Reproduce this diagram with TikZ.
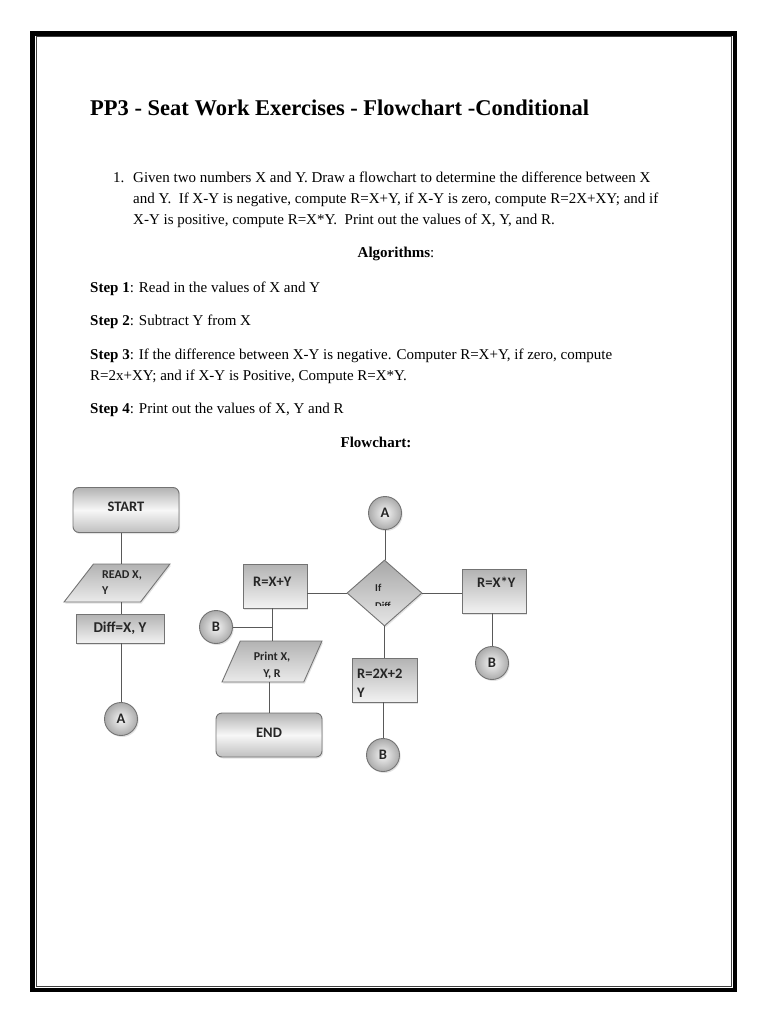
\documentclass[tikz,border=0pt]{standalone}
\usepackage{fontspec}
\setmainfont{Liberation Serif}
\newfontfamily\flowfont{Carlito}
\usetikzlibrary{shapes.geometric,shadows}
\begin{document}
\begin{tikzpicture}[x=1pt,y=-1pt,
  body/.style={font=\fontsize{15}{18}\selectfont, anchor=base west, inner sep=0pt},
  ftxt/.style={font=\flowfont\bfseries\fontsize{14.5}{16}\selectfont, text=black!85, anchor=base west, inner sep=0pt},
  fsmall/.style={ftxt, font=\flowfont\bfseries\fontsize{12}{14}\selectfont},
  fshape/.style={draw=black!55, line width=0.9pt, inner sep=0pt, text=black!85,
    font=\flowfont\bfseries\fontsize{14.5}{16}\selectfont,
    drop shadow={opacity=0.22, shadow xshift=1.2pt, shadow yshift=-1.5pt}},
  term/.style={fshape, rectangle, rounded corners=6pt, minimum width=106pt, minimum height=45pt,
    top color=black!30, bottom color=black!25, middle color=black!3},
  proc/.style={fshape, rectangle, top color=black!30, bottom color=black!5},
  io/.style={fshape, trapezium, trapezium stretches=true, inner sep=3pt, top color=black!30, bottom color=black!8},
  dec/.style={fshape, diamond, inner sep=2pt, top color=black!34, bottom color=black!10},
  conncirc/.style={fshape, circle, minimum size=33pt, inner color=black!4, outer color=black!33},
  conn/.style={draw=black!65, line width=1pt}]
\useasboundingbox (0,0) rectangle (768,1024);
% page border
\draw[line width=4.6pt] (32.3,33.3) rectangle (735,990);
\draw[line width=1pt, black!75] (36.5,37) rectangle (731.3,986.5);

% title and text
\node[body, font=\bfseries\fontsize{22.5}{26}\selectfont] (title) at (90,116) {PP3 - Seat Work Exercises - Flowchart -Conditional};
\node[body] (qnum) at (113,183) {1.};
\node[body] (q1) at (133,183) {Given two numbers X and Y. Draw a flowchart to determine the difference between X};
\node[body] (q2) at (133,204) {and Y.\ \ If X-Y is negative, compute R=X+Y, if X-Y is zero, compute R=2X+XY; and if};
\node[body] (q3) at (133,225) {X-Y is positive, compute R=X*Y.\ \ Print out the values of X, Y, and R.};
\node[body, anchor=base] (alg) at (396,258) {\textbf{Algorithms}:};
\node[body] (s1) at (90,292) {\textbf{Step 1}: Read in the values of X and Y};
\node[body] (s2) at (90,325) {\textbf{Step 2}: Subtract Y from X};
\node[body] (s3a) at (90,359) {\textbf{Step 3}: If the difference between X-Y is negative. Computer R=X+Y, if zero, compute};
\node[body] (s3b) at (90,380) {R=2x+XY; and if X-Y is Positive, Compute R=X*Y.};
\node[body] (s4) at (90,413) {\textbf{Step 4}: Print out the values of X, Y and R};
\node[body, anchor=base] (fch) at (376,447) {\textbf{Flowchart:}};

% flowchart shapes
\node[term] (start) at (126,510) {\raisebox{6pt}{START}};
\node[io, minimum width=106pt, minimum height=38pt, trapezium left angle=58, trapezium right angle=122] (read) at (117,583) {};
\node[fsmall] (readt1) at (102,578) {READ X,};
\node[fsmall] (readt2) at (102,594) {Y};
\node[proc, minimum width=88pt, minimum height=29pt, font=\flowfont\bfseries\fontsize{15}{16}\selectfont] (diff) at (120,628.5) {\raisebox{3pt}{Diff=X, Y}};
\node[conncirc] (a1) at (121,719) {A};

\node[conncirc] (a2) at (385,513) {A};
\node[dec, minimum width=75pt, minimum height=66pt] (dec) at (384.5,593) {};
\begin{scope}
\clip (340,570) rectangle (430,605);
\node[ftxt, font=\flowfont\bfseries\fontsize{10.5}{12}\selectfont] (ift) at (375,591) {If};
\node[ftxt, font=\flowfont\bfseries\fontsize{10.5}{12}\selectfont] (difft) at (375,609) {Diff};
\end{scope}

\node[proc, minimum width=64pt, minimum height=44pt] (rxy) at (275,586) {};
\node[ftxt] (rxyt) at (253,586) {R=X+Y};
\node[proc, minimum width=64pt, minimum height=44pt] (rxmy) at (494,591) {};
\node[ftxt] (rxmyt) at (477,587) {R=X*Y};
\node[proc, minimum width=65pt, minimum height=44pt] (r2x) at (384.5,680) {};
\node[ftxt] (r2xt1) at (357,678) {R=2X+2};
\node[ftxt] (r2xt2) at (357,697) {Y};

\node[conncirc] (b1) at (216,627) {B};
\node[conncirc] (b2) at (383,755) {B};
\node[conncirc] (b3) at (492,663) {B};

\node[io, minimum width=100pt, minimum height=41pt, trapezium left angle=74, trapezium right angle=106] (print) at (272,661.5) {};
\node[fsmall, anchor=base] (pt1) at (272,660) {Print X,};
\node[fsmall, anchor=base] (pt2) at (272,677) {Y, R};
\node[term, minimum height=44pt] (end) at (269,735) {\raisebox{4pt}{END}};

% connectors
\coordinate (j1) at (272,627);
\draw[conn] (start.south -| a1) -- (read.north -| a1);
\draw[conn] (read.south -| a1) -- (diff.north -| a1);
\draw[conn] (diff.south -| a1) -- (a1.north);
\draw[conn] (a2.south) -- (a2.south |- dec.north);
\draw[conn] (dec.west) -- (dec.west -| rxy.east);
\draw[conn] (dec.east) -- (dec.east -| rxmy.west);
\draw[conn] (dec.south) -- (dec.south |- r2x.north);
\draw[conn] (r2x.south -| b2) -- (b2.north);
\draw[conn] (rxmy.south -| b3) -- (b3.north);
\draw[conn] (rxy.south -| j1) -- (print.north -| j1);
\draw[conn] (b1.east) -- (j1);
\draw[conn] (print.south -| end.north) -- (end.north);
\end{tikzpicture}
\end{document}
